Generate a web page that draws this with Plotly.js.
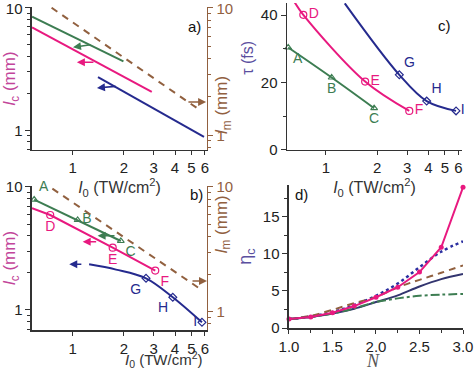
<!DOCTYPE html>
<html><head><meta charset="utf-8">
<script src="https://cdn.plot.ly/plotly-3.0.1.min.js"></script>
<style>html,body{margin:0;padding:0;background:#fff}#chart{width:474px;height:370px}</style>
</head><body><div id="chart"></div>
<script>
// ---------- data ----------
// panel a
const aGreenX = [0.577, 1.99],  aGreenY = [8.45, 3.64];
const aPinkX  = [0.577, 2.92],  aPinkY  = [6.92, 2.05];
const aBlueX  = [1.41, 5.92],   aBlueY  = [2.71, 0.88];
const aBrownX = [0.752, 5.61],  aBrownY = [10.0, 1.57];
// panel b
const bGreenX = [0.594, 1.07, 1.92], bGreenY = [7.9, 5.39, 3.64], bGreenLab = ['A','B','C'];
const bPinkLineX = [0.577, 0.738, 1.72, 3.06], bPinkLineY = [6.71, 5.92, 3.21, 2.09];
const bPinkX = [0.738, 1.72, 3.06], bPinkY = [5.92, 3.21, 2.09], bPinkLab = ['D','E','F'];
const bBlueLineX = [1.25, 1.80, 2.70, 3.88, 5.76], bBlueLineY = [2.35, 2.13, 1.81, 1.27, 0.794];
const bBlueX = [2.70, 3.88, 5.76], bBlueY = [1.81, 1.27, 0.794], bBlueLab = ['G','H','I'];
const bBrownX = [0.76, 5.56], bBrownY = [9.7, 1.54];
// panel c
const cGreenX = [0.6, 1.08, 1.92], cGreenY = [30.4, 21.5, 12.4], cGreenLab = ['A','B','C'];
const cPinkLineX = [0.651, 0.736, 1.70, 3.09], cPinkLineY = [44, 40.1, 20.3, 11.6];
const cPinkX = [0.736, 1.70, 3.09], cPinkY = [40.1, 20.3, 11.6], cPinkLab = ['D','E','F'];
const cBlueLineX = [1.29, 2.70, 3.91, 5.82], cBlueLineY = [43.5, 22.3, 14.5, 11.6];
const cBlueX = [2.70, 3.91, 5.82], cBlueY = [22.3, 14.5, 11.6], cBlueLab = ['G','H','I'];
// panel d
const dN      = [1, 1.25, 1.5, 1.75, 2, 2.25, 2.5, 2.75, 3];
const dPink   = [1.2, 1.5, 2.06, 2.96, 4.15, 5.5, 7.55, 10.9, 19.0];
const dDotted = [1.2, 1.55, 2.15, 3.1, 4.35, 6.0, 8.2, 10.3, 11.7];
const dDashed = [1.2, 1.65, 2.45, 3.35, 4.2, 5.5, 6.5, 7.45, 8.45];
const dSolid  = [1.2, 1.5, 1.95, 2.6, 3.5, 4.4, 5.6, 6.6, 7.3];
const dDashDot= [1.2, 1.5, 1.95, 2.65, 3.5, 4.0, 4.35, 4.5, 4.6];
const logTickVals = [1, 2, 3, 4, 5, 6];
const logTickText = ['1', '2', '3', '4', '5', '6'];

// ---------- styles ----------
const GREEN = '#3d7d52', PINK = '#e8197f', NAVY = '#252a8e', BROWN = '#91603f', DOTBLUE = '#2b2fa0';
const FONT = 'Arial, "Liberation Sans", sans-serif';
const AX = '#333';
const lw = 2;

function ln(x, y, color, xa, ya, extra) {
  return Object.assign({x: x, y: y, mode: 'lines', xaxis: xa, yaxis: ya, showlegend: false,
    hoverinfo: 'skip', line: {color: color, width: lw}}, extra || {});
}
function mk(x, y, lab, pos, color, sym, size, xa, ya) {
  return {x: x, y: y, text: lab, mode: 'markers+text', textposition: pos, xaxis: xa, yaxis: ya,
    showlegend: false, hoverinfo: 'skip', cliponaxis: false,
    marker: {symbol: sym, size: size, color: color, line: {color: color, width: 1.2}},
    textfont: {family: FONT, size: 14, color: color}};
}

const traces = [
  // a
  ln(aGreenX, aGreenY, GREEN, 'x', 'y'),
  ln(aPinkX, aPinkY, PINK, 'x', 'y'),
  ln(aBlueX, aBlueY, NAVY, 'x', 'y'),
  ln(aBrownX, aBrownY, BROWN, 'x', 'y2', {line: {color: BROWN, width: lw, dash: '7px,6px'}}),
  // b
  ln(bGreenX, bGreenY, GREEN, 'x2', 'y3'),
  mk(bGreenX, bGreenY, bGreenLab, ['top right', 'middle right', 'bottom right'], GREEN, 'triangle-up-open', 6, 'x2', 'y3'),
  ln(bPinkLineX, bPinkLineY, PINK, 'x2', 'y3'),
  mk(bPinkX, bPinkY, bPinkLab, ['bottom center', 'bottom center', 'bottom right'], PINK, 'circle-open', 7, 'x2', 'y3'),
  ln(bBlueLineX, bBlueLineY, NAVY, 'x2', 'y3', {line: {color: NAVY, width: lw, shape: 'spline'}}),
  mk(bBlueX, bBlueY, bBlueLab, ['bottom left', 'bottom left', 'middle left'], NAVY, 'diamond-open', 6, 'x2', 'y3'),
  ln(bBrownX, bBrownY, BROWN, 'x2', 'y4', {line: {color: BROWN, width: lw, dash: '7px,6px'}}),
  // c
  ln(cGreenX, cGreenY, GREEN, 'x3', 'y5', {line: {color: GREEN, width: lw, shape: 'spline'}}),
  mk(cGreenX, cGreenY, cGreenLab, ['bottom right', 'bottom center', 'bottom center'], GREEN, 'triangle-up-open', 6, 'x3', 'y5'),
  ln(cPinkLineX, cPinkLineY, PINK, 'x3', 'y5', {line: {color: PINK, width: lw, shape: 'spline'}}),
  mk(cPinkX, cPinkY, cPinkLab, ['middle right', 'middle right', 'middle right'], PINK, 'circle-open', 7, 'x3', 'y5'),
  ln(cBlueLineX, cBlueLineY, NAVY, 'x3', 'y5', {line: {color: NAVY, width: lw, shape: 'spline'}}),
  mk(cBlueX, cBlueY, cBlueLab, ['top right', 'top right', 'middle right'], NAVY, 'diamond-open', 6, 'x3', 'y5'),
  // d
  ln(dN, dDotted, DOTBLUE, 'x4', 'y6', {line: {color: DOTBLUE, width: 2.5, dash: 'dot', shape: 'spline'}}),
  ln(dN, dDashed, BROWN, 'x4', 'y6', {line: {color: BROWN, width: 2, dash: '7px,5px', shape: 'spline'}}),
  ln(dN, dSolid, '#33356f', 'x4', 'y6', {line: {color: '#33356f', width: 2, shape: 'spline'}}),
  ln(dN, dDashDot, GREEN, 'x4', 'y6', {line: {color: GREEN, width: 2, dash: 'dashdot', shape: 'spline'}}),
  {x: dN, y: dPink, mode: 'lines+markers', xaxis: 'x4', yaxis: 'y6', showlegend: false, hoverinfo: 'skip',
   cliponaxis: false, line: {color: PINK, width: 2}, marker: {color: PINK, size: 5}}
];

const tickfont = {family: FONT, size: 15, color: '#222'};
const logMinorY = {ticks: 'outside', ticklen: 3, tickcolor: AX, tickmode: 'array',
  tickvals: [0.7, 0.8, 0.9, 2, 3, 4, 5, 6, 7, 8, 9]};
const logMinorYR = {ticks: 'outside', ticklen: 3, tickcolor: BROWN, tickmode: 'array',
  tickvals: [0.7, 0.8, 0.9, 2, 3, 4, 5, 6, 7, 8, 9]};
const I0 = '<i>I</i><sub>0</sub> (TW/cm<sup>2</sup>)';
const titleFont = {family: FONT, size: 16, color: '#333'};

function xLog(dom, anchor, withTitle) {
  const ax = {type: 'log', domain: dom, anchor: anchor, range: [-0.239, 0.79], tickmode: 'array',
    tickvals: logTickVals, ticktext: logTickText, ticks: 'outside', ticklen: 4, tickcolor: AX,
    showline: true, linecolor: AX, linewidth: 1.5, showgrid: false, zeroline: false, tickfont: tickfont,
    ticklabeloverflow: 'allow', automargin: false};
  if (withTitle) ax.title = {text: I0, font: titleFont, standoff: 1};
  return ax;
}
function yLeftLog(dom, anchor, rng, shift) {
  return {type: 'log', domain: dom, anchor: anchor, range: rng, tickmode: 'array', tickvals: [1, 10],
    ticktext: ['1', '10'], ticks: 'outside', ticklen: 5, tickcolor: AX, minor: logMinorY,
    showline: true, linecolor: AX, linewidth: 1.5, showgrid: false, zeroline: false, tickfont: tickfont,
    ticklabeloverflow: 'allow', ticklabelshift: shift, automargin: false,
    title: {text: '<i>l</i><sub>c</sub> (mm)', font: {family: FONT, size: 17, color: '#c2459a'}, standoff: 1}};
}
function yRightLog(over, anchor, rng, shift) {
  return {type: 'log', overlaying: over, side: 'right', anchor: anchor, range: rng, tickmode: 'array',
    tickvals: [1, 10], ticktext: ['1', '10'], ticks: 'outside', ticklen: 5, tickcolor: BROWN, minor: logMinorYR,
    showline: true, linecolor: BROWN, linewidth: 1.5, showgrid: false, zeroline: false,
    tickfont: {family: FONT, size: 15, color: BROWN}, ticklabeloverflow: 'allow', ticklabelshift: shift, automargin: false};
}

const layout = {
  width: 474, height: 370, margin: {l: 0, r: 0, t: 0, b: 0},
  paper_bgcolor: '#fff', plot_bgcolor: '#fff', font: {family: FONT},
  xaxis: xLog([0.0675, 0.4367], 'y', true),
  yaxis: yLeftLog([0.5946, 0.9811], 'x', [-0.1626, 1.006], 1),
  yaxis2: yRightLog('y', 'x', [-0.117, 1.006], 1),
  xaxis2: xLog([0.0675, 0.4367], 'y3', false),
  yaxis3: yLeftLog([0.1081, 0.4973], 'x2', [-0.1626, 1.008], 0),
  yaxis4: yRightLog('y3', 'x2', [-0.146, 1.008], 0),
  xaxis3: Object.assign(xLog([0.6055, 0.9747], 'y5', true), {range: [-0.229, 0.8]}),
  yaxis5: {domain: [0.5946, 0.9919], anchor: 'x3', range: [0, 43.6], tickvals: [0, 20, 40], ticks: 'outside',
    ticklen: 5, tickcolor: AX, minor: {ticks: 'outside', ticklen: 3, tickcolor: AX, tickmode: 'array', tickvals: [10, 30]},
    showline: true, linecolor: AX, linewidth: 1.5, showgrid: false, zeroline: false, tickfont: tickfont,
    ticklabeloverflow: 'allow', automargin: false},
  xaxis4: {domain: [0.6097, 0.9768], anchor: 'y6', range: [1, 3], tickvals: [1, 1.5, 2, 2.5, 3],
    ticktext: ['1.0', '1.5', '2.0', '2.5', '3.0'], ticks: 'outside', ticklen: 4, tickcolor: AX,
    minor: {ticks: 'outside', ticklen: 3, tickcolor: AX, tickmode: 'array', tickvals: [1.25, 1.75, 2.25, 2.75]},
    showline: true, linecolor: AX, linewidth: 1.5, showgrid: false, zeroline: false, tickfont: tickfont,
    ticklabeloverflow: 'allow', automargin: false},
  yaxis6: {domain: [0.1135, 0.5], anchor: 'x4', range: [0, 19.3], tickvals: [0, 5, 10, 15], ticks: 'outside',
    ticklen: 5, tickcolor: AX, minor: {ticks: 'outside', ticklen: 3, tickcolor: AX, tickmode: 'array', tickvals: [2.5, 7.5, 12.5, 17.5]},
    showline: true, linecolor: AX, linewidth: 1.5, showgrid: false, zeroline: false, tickfont: tickfont,
    ticklabeloverflow: 'allow', automargin: false,
    title: {text: 'η<sub>c</sub>', font: {family: FONT, size: 18, color: '#5b4f9f'}, standoff: 6}},
  annotations: [
    // bottom x titles
    {xref: 'paper', yref: 'paper', x: 0.2595, y: -0.006, yanchor: 'bottom', text: I0, showarrow: false,
     font: {family: FONT, size: 15, color: '#333'}},
    {xref: 'paper', yref: 'paper', x: 0.805, y: -0.008, yanchor: 'bottom', text: '<i>N</i>', showarrow: false,
     font: {family: 'Times New Roman, "Liberation Serif", serif', size: 18, color: '#555'}},
    // panel letters
    {xref: 'paper', yref: 'paper', x: 0.411, y: 0.957, text: 'a)', showarrow: false, font: {family: FONT, size: 15, color: '#111'}},
    {xref: 'paper', yref: 'paper', x: 0.4156, y: 0.473, text: 'b)', showarrow: false, font: {family: FONT, size: 15, color: '#111'}},
    {xref: 'paper', yref: 'paper', x: 0.9564, y: 0.959, text: 'c)', showarrow: false, font: {family: FONT, size: 15, color: '#111'}},
    {xref: 'paper', yref: 'paper', x: 0.6365, y: 0.473, text: 'd)', showarrow: false, font: {family: FONT, size: 15, color: '#111'}},
    // right axis titles
    {xref: 'paper', yref: 'paper', x: 0.4705, y: 0.80, text: '<i>l</i><sub>m</sub> (mm)', textangle: -90, showarrow: false,
     font: {family: FONT, size: 17, color: BROWN}},
    {xref: 'paper', yref: 'paper', x: 0.4705, y: 0.31, text: '<i>l</i><sub>m</sub> (mm)', textangle: -90, showarrow: false,
     font: {family: FONT, size: 17, color: BROWN}},
    // tau title
    {xref: 'paper', yref: 'paper', x: 0.523, y: 0.895, text: 'τ (fs)', textangle: -90, showarrow: false,
     font: {family: FONT, size: 16, color: '#5b4f9f'}},
    // arrows panel a (log units)
    {xref: 'x', yref: 'y', axref: 'x', ayref: 'y', x: 0.002, y: 0.677, ax: 0.114, ay: 0.699, text: '', showarrow: true, arrowhead: 2, arrowsize: 1, arrowwidth: 1.6, arrowcolor: GREEN},
    {xref: 'x', yref: 'y', axref: 'x', ayref: 'y', x: 0.025, y: 0.555, ax: 0.131, ay: 0.555, text: '', showarrow: true, arrowhead: 2, arrowsize: 1, arrowwidth: 1.6, arrowcolor: PINK},
    {xref: 'x', yref: 'y', axref: 'x', ayref: 'y', x: 0.143, y: 0.344, ax: 0.261, ay: 0.358, text: '', showarrow: true, arrowhead: 2, arrowsize: 1, arrowwidth: 1.6, arrowcolor: NAVY},
    {xref: 'x', yref: 'y', axref: 'x', ayref: 'y', x: 0.785, y: 0.23, ax: 0.672, ay: 0.23, text: '', showarrow: true, arrowhead: 2, arrowsize: 1, arrowwidth: 1.6, arrowcolor: BROWN},
    // arrows panel b
    {xref: 'x2', yref: 'y3', axref: 'x2', ayref: 'y3', x: 0.147, y: 0.604, ax: 0.255, ay: 0.604, text: '', showarrow: true, arrowhead: 2, arrowsize: 1, arrowwidth: 1.6, arrowcolor: GREEN},
    {xref: 'x2', yref: 'y3', axref: 'x2', ayref: 'y3', x: 0.059, y: 0.555, ax: 0.147, ay: 0.555, text: '', showarrow: true, arrowhead: 2, arrowsize: 1, arrowwidth: 1.6, arrowcolor: PINK},
    {xref: 'x2', yref: 'y3', axref: 'x2', ayref: 'y3', x: -0.02, y: 0.372, ax: 0.06, ay: 0.372, text: '', showarrow: true, arrowhead: 2, arrowsize: 1, arrowwidth: 1.6, arrowcolor: NAVY},
    {xref: 'x2', yref: 'y3', axref: 'x2', ayref: 'y3', x: 0.79, y: 0.236, ax: 0.696, ay: 0.236, text: '', showarrow: true, arrowhead: 2, arrowsize: 1, arrowwidth: 1.6, arrowcolor: BROWN}
  ]
};

Plotly.newPlot('chart', traces, layout, {staticPlot: true, displayModeBar: false});
</script>
</body></html>
